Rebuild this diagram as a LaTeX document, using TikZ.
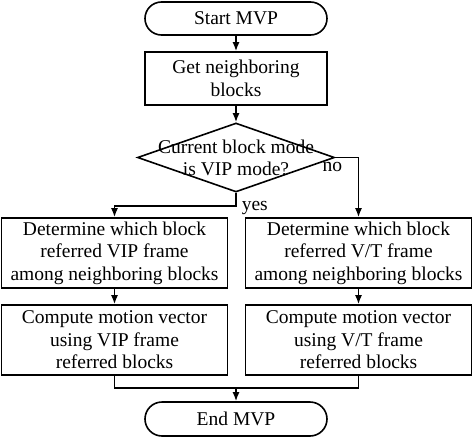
\documentclass[tikz,border=0pt]{standalone}
\usepackage{fontspec}
\setmainfont{Liberation Serif}
\usetikzlibrary{shapes.geometric,shapes.misc,arrows.meta}
\begin{document}
\begin{tikzpicture}[x=1pt,y=-1pt,line width=1.6pt,
  every node/.style={font=\fontsize{19.5}{22.5}\selectfont},
  box/.style={draw,rectangle,align=center,minimum width=226pt,minimum height=70pt,inner sep=0pt},
  term/.style={draw,rounded rectangle,minimum width=182pt,minimum height=33pt,inner sep=0pt},
  arr/.style={-{Latex[length=9pt,width=7pt]}}]
\useasboundingbox (0,0) rectangle (474,439);
\node[term] (start) at (236,18.5) {Start MVP};
\node[box,minimum width=182pt,minimum height=53pt] (get) at (236,78.5) {Get neighboring\\blocks};
\node[draw,diamond,minimum width=197pt,minimum height=69pt,inner sep=0pt] (dec) at (236,157.5) {};
\node[align=center,inner sep=0pt] (dectext) at (236,158) {Current block mode\\is VIP mode?};
\node[box] (detvip) at (114.5,253) {Determine which block\\referred VIP frame\\among neighboring blocks};
\node[box] (detvt) at (358.5,253) {Determine which block\\referred V/T frame\\among neighboring blocks};
\node[box] (compvip) at (114.5,340) {Compute motion vector\\using VIP frame\\referred blocks};
\node[box] (compvt) at (358.5,340) {Compute motion vector\\using V/T frame\\referred blocks};
\node[term,minimum height=34pt] (end) at (236,419) {End MVP};
\coordinate (split) at (236,206);
\coordinate (merge) at (236,388);
% connectors
\draw[arr] (start) -- (get);
\draw[arr] (get) -- (dec);
\draw[arr] (dec.east) -| (detvt.north);
\node[below,inner sep=4pt] (no) at ([xshift=-3pt]dec.east) {no};
\draw[arr] (dec.south) -- (split) -| (detvip.north);
\node[right,inner sep=5pt] (yes) at ([yshift=-2pt]split) {yes};
\draw[arr] (detvip) -- (compvip);
\draw[arr] (detvt) -- (compvt);
\draw (compvip.south) |- (merge);
\draw (compvt.south) |- (merge);
\draw[arr] (merge) -- (end);
\end{tikzpicture}
\end{document}
